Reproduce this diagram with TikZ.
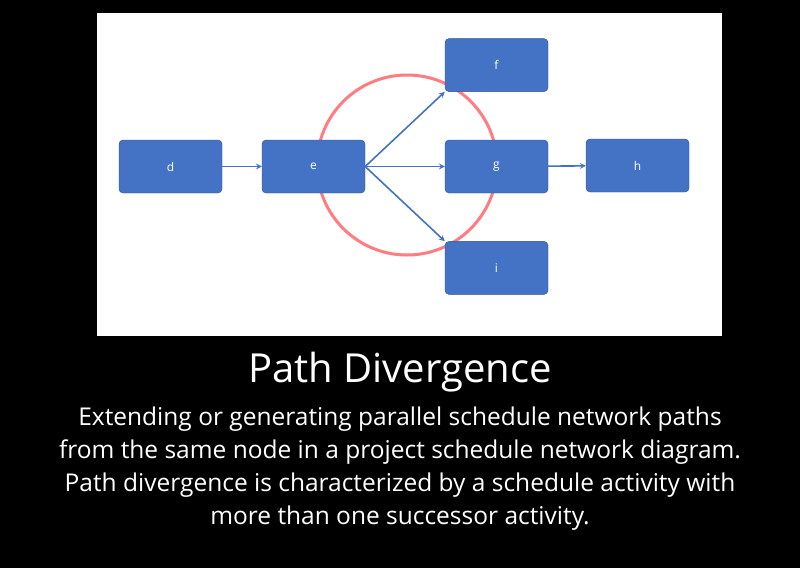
\documentclass[tikz,border=0pt]{standalone}
\usepackage{fontspec}
\setmainfont{Open Sans}
\usetikzlibrary{positioning}
\definecolor{boxblue}{HTML}{4472C4}
\definecolor{boxedge}{HTML}{2F528F}
\definecolor{ringred}{HTML}{FF7C80}
\tikzset{
        act/.style = {draw = boxedge, fill = boxblue, text = white, rounded corners = 4pt,
            minimum width = 103pt, minimum height = 53pt, font = \fontsize{12}{14}\selectfont},
        link/.style = {->, >=stealth, draw = boxblue, line width = 1.6pt}
    }
\begin{document}
\begin{tikzpicture}[x=1pt, y=-1pt]
        \fill[black] (0,0) rectangle (800,568);
        \fill[white] (97,13) rectangle (722,336);
        \draw[ringred, line width = 3pt] (407,165) circle (90);

        \node[act] (d) at (170.5,166.5) {d};
        \node[act] (e) at (313.5,166.5) {e};
        \node[act] (g) at (496.5,166.5) {g};
        \node[act] (f) [above = 48pt of g] {f};
        \node[act] (i) [below = 48pt of g] {i};
        \node[act] (h) at (637.5,165.5) {h};

        \draw[link] (d) -- (e);
        \draw[link] (e.east) -- (f.south west);
        \draw[link] (e.east) -- (g);
        \draw[link] (e.east) -- (i.north west);
        \draw[link] (g) -- (h);

        \node[text = white, font = \fontsize{40}{48}\selectfont] (title) at (400,372) {Path Divergence};
        \node[text = white, align = center, font = \fontsize{24.5}{33}\selectfont] (body) at (400,469)
            {Extending or generating parallel schedule network paths\\
             from the same node in a project schedule network diagram.\\
             Path divergence is characterized by a schedule activity with\\
             more than one successor activity.};
    \end{tikzpicture}
\end{document}
